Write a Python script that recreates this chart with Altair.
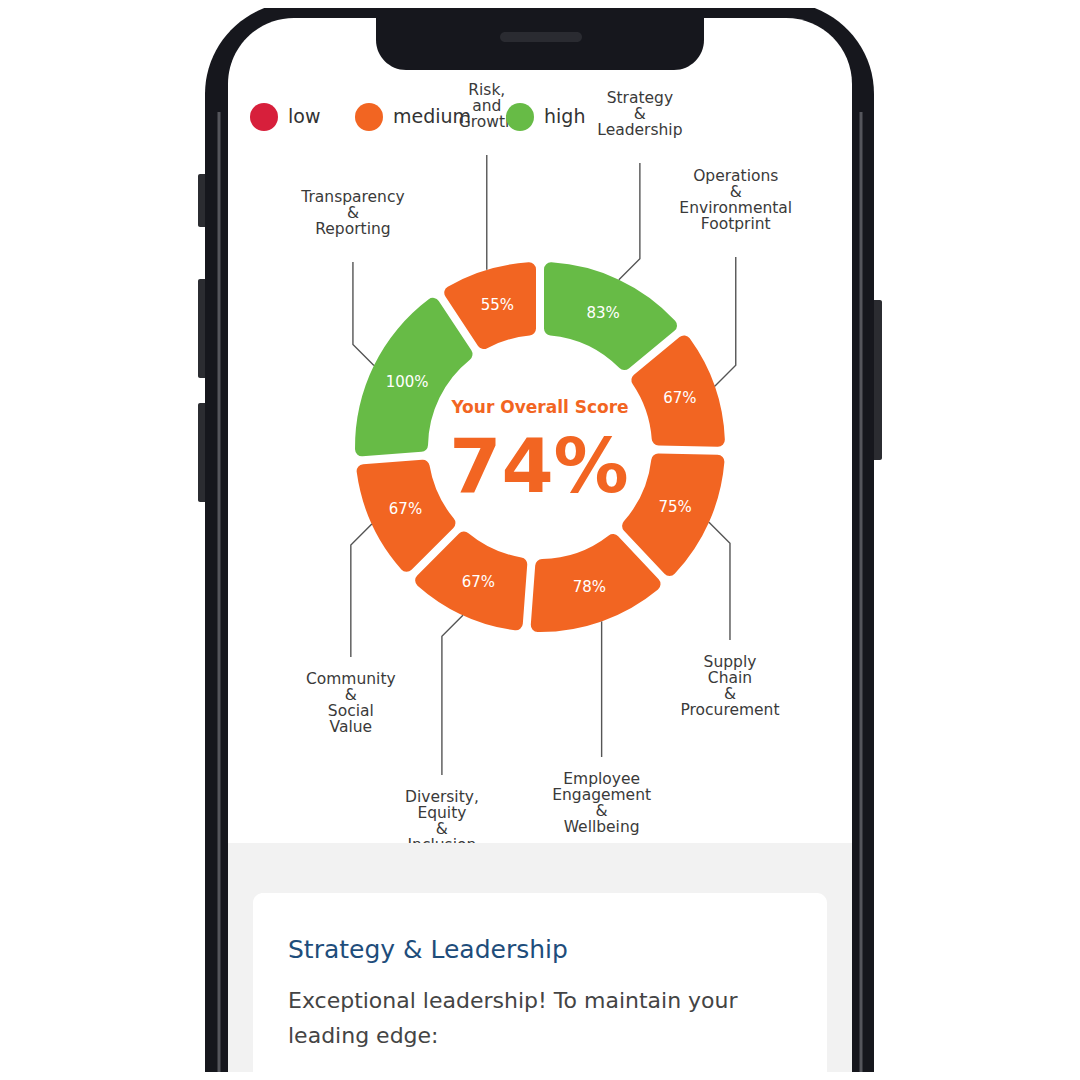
import math
import altair as alt
import pandas as pd

# ---------------- data ----------------
categories = [
    "Strategy & Leadership",
    "Operations & Environmental Footprint",
    "Supply Chain & Procurement",
    "Employee Engagement & Wellbeing",
    "Diversity, Equity & Inclusion",
    "Community & Social Value",
    "Transparency & Reporting",
    "Risk, and Growth",
]
label_lines = [
    ["Strategy", "&", "Leadership"],
    ["Operations", "&", "Environmental", "Footprint"],
    ["Supply", "Chain", "&", "Procurement"],
    ["Employee", "Engagement", "&", "Wellbeing"],
    ["Diversity,", "Equity", "&", "Inclusion"],
    ["Community", "&", "Social", "Value"],
    ["Transparency", "&", "Reporting"],
    ["Risk,", "and", "Growth"],
]
scores = [83, 67, 75, 78, 67, 67, 100, 55]
levels = ["high", "medium", "medium", "medium", "medium", "medium", "high", "medium"]
level_names = ["low", "medium", "high"]
level_colors = ["#d71f3b", "#f26522", "#67bb46"]
center_title = "Your Overall Score"
card_title = "Strategy & Leadership"
card_body = ["Exceptional leadership! To maintain your", "leading edge:"]

# ---------------- layout ----------------
W = H = 1064
OFF = 8
CX, CY = 540, 447
R_OUT, R_IN, R_LBL = 185, 112, 148
leader_end_y = [163, 257, 640, 757, 775, 657, 262, 155]
leader_elbow = [21, 21, 21, 0, 21, 21, 21, 0]
LINE_H = 16
FONT = "DejaVu Sans"
PHONE = "#16171d"

xs = alt.X("x:Q", scale=alt.Scale(domain=[OFF, W + OFF], nice=False, zero=False), axis=None)
ys = alt.Y("y:Q", scale=alt.Scale(domain=[OFF, H + OFF], nice=False, zero=False, reverse=True), axis=None)


def rect(x1, x2, y1, y2, fill, **kw):
    df = pd.DataFrame({"x": [x1], "x2": [x2], "y": [y1], "y2": [y2]})
    return alt.Chart(df).mark_rect(fill=fill, **kw).encode(x=xs, x2="x2:Q", y=ys, y2="y2:Q")


def texts(rows, **kw):
    df = pd.DataFrame(rows, columns=["x", "y", "t"])
    return alt.Chart(df).mark_text(font=FONT, **kw).encode(x=xs, y=ys, text="t:N")


# ---------------- data tables ----------------
seg = pd.DataFrame({
    "idx": list(range(len(scores))),
    "category": categories,
    "score": scores,
    "level": levels,
    "pct": [f"{v}%" for v in scores],
})

total = sum(scores)
cum = 0
line_rows, lab_rows = [], []
for i, v in enumerate(scores):
    mid = (cum + v / 2) / total * 2 * math.pi
    cum += v
    s, c = math.sin(mid), math.cos(mid)
    x0, y0 = CX + R_OUT * s, CY - R_OUT * c
    sx = 1 if s > 0 else -1
    sy = -1 if c > 0 else 1
    e = leader_elbow[i]
    x1, y1 = x0 + sx * e, y0 + sy * e
    ye = leader_end_y[i]
    for k, (px, py) in enumerate([(x0, y0), (x1, y1), (x1, ye)]):
        line_rows.append({"category": categories[i], "k": k, "x": px, "y": py})
    n = len(label_lines[i])
    top = ye - 24 - n * LINE_H if sy < 0 else ye + 15
    lab_rows.append({"x": x1, "y": top, "t": "\n".join(label_lines[i])})

lines_df = pd.DataFrame(line_rows)
labs_df = pd.DataFrame(lab_rows)
overall = round(sum(scores) / len(scores))

# ---------------- phone decoration ----------------
layers = []
for (y1, y2) in [(174, 227), (279, 378), (403, 502)]:
    layers.append(rect(198, 208, y1, y2, "#2b2c31", cornerRadius=2))
layers.append(rect(872, 882, 300, 460, "#2b2c31", cornerRadius=2))
layers.append(rect(205, 874, 2, 1200, PHONE, cornerRadius=92))
for xx in (219, 861):
    df = pd.DataFrame({"x": [xx], "y": [112], "y2": [1200]})
    layers.append(alt.Chart(df).mark_rule(color="#55565c", strokeWidth=3).encode(x=xs, y=ys, y2="y2:Q"))
layers.append(rect(228, 852, 18, 1200, "#ffffff", cornerRadius=66))
layers.append(rect(376, 704, 10, 70, PHONE, cornerRadiusBottomLeft=30, cornerRadiusBottomRight=30))
layers.append(rect(500, 582, 32, 42, "#2a2b31", cornerRadius=5))

# ---------------- donut ----------------
arcs = alt.Chart(seg).mark_arc(
    innerRadius=R_IN, outerRadius=R_OUT, padAngle=0.037, cornerRadius=7
).encode(
    theta=alt.Theta("score:Q", stack=True),
    order=alt.Order("idx:Q"),
    color=alt.Color(
        "level:N",
        scale=alt.Scale(domain=level_names, range=level_colors),
        legend=alt.Legend(
            orient="none", legendX=242, legendY=95, direction="horizontal", title=None,
            labelFont=FONT, labelFontSize=19, labelColor="#333333", symbolType="circle",
            symbolSize=784, symbolStrokeWidth=0, symbolOpacity=1, labelOffset=10,
            columnPadding=34, padding=0,
        ),
    ),
    x=alt.value(CX - OFF),
    y=alt.value(CY - OFF),
)
seg_text = alt.Chart(seg).mark_text(
    radius=R_LBL, fontSize=15, color="white", font=FONT, baseline="middle"
).encode(
    theta=alt.Theta("score:Q", stack=True),
    order=alt.Order("idx:Q"),
    text="pct:N",
    x=alt.value(CX - OFF),
    y=alt.value(CY - OFF),
)
layers += [arcs, seg_text]

layers.append(texts([(540, 413, center_title)], fontSize=17, fontWeight="bold", color="#f26522",
                    baseline="alphabetic", align="center"))
layers.append(texts([(539, 492, f"{overall}%")], fontSize=75, fontWeight="bold", color="#f26522",
                    baseline="alphabetic", align="center"))

leaders = alt.Chart(lines_df).mark_line(color="#555555", strokeWidth=1.4).encode(
    x=xs, y=ys, detail="category:N", order="k:Q"
)
outer_labels = alt.Chart(labs_df).mark_text(
    font=FONT, fontSize=15.5, lineHeight=LINE_H, lineBreak="\n", color="#3a3a3a",
    baseline="top", align="center"
).encode(x=xs, y=ys, text="t:N")
layers += [leaders, outer_labels]

# ---------------- lower card ----------------
layers.append(rect(228, 852, 843, 1200, "#f2f2f2"))
layers.append(rect(253, 827, 893, 1200, "#ffffff", cornerRadius=10))
layers.append(texts([(288, 958, card_title)], fontSize=25, color="#1e4d7b", baseline="alphabetic", align="left"))
layers.append(texts([(288, 1008, card_body[0]), (288, 1043, card_body[1])], fontSize=22, color="#444444",
                    baseline="alphabetic", align="left"))

chart = alt.layer(*layers).properties(
    width=W, height=H, padding=0, autosize=alt.AutoSizeParams(type="none"), background="white"
).configure_view(stroke=None)

chart.save("out.html", embed_options={"renderer": "svg", "actions": False})
